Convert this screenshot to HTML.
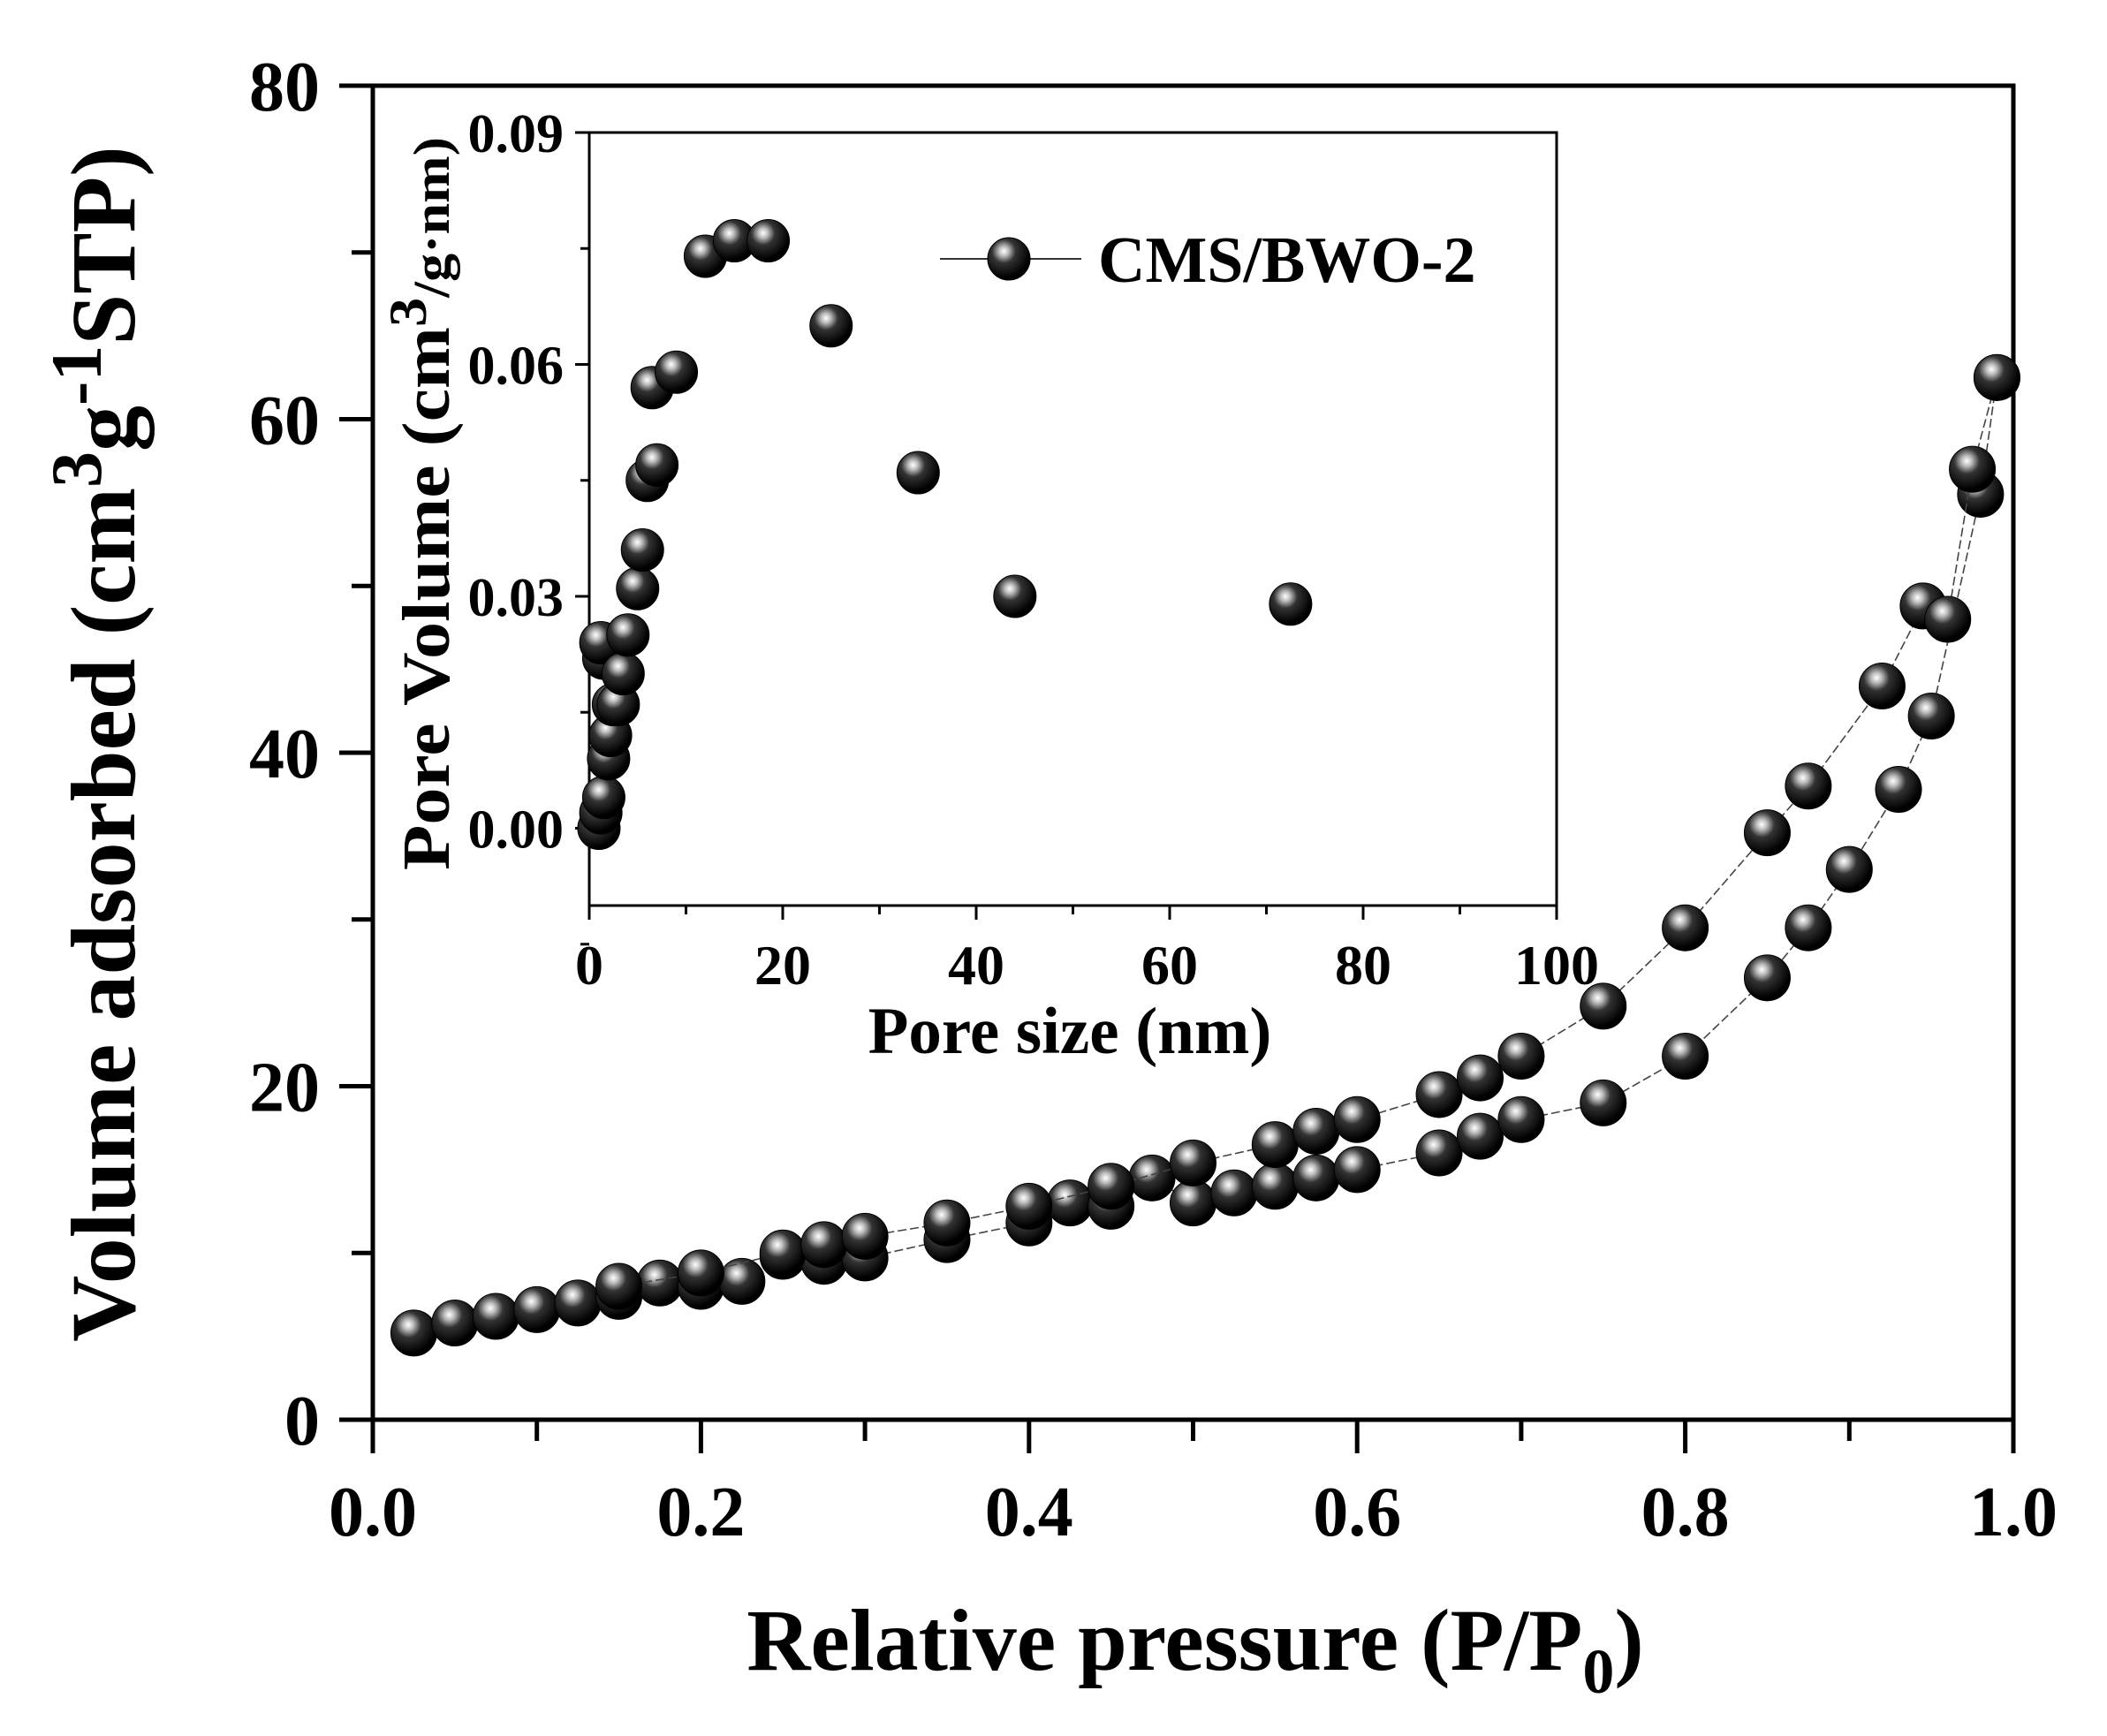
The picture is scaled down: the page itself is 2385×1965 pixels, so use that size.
<!DOCTYPE html>
<html><head><meta charset="utf-8"><style>
html,body{margin:0;padding:0;background:#fff;}
svg{display:block;font-family:"Liberation Serif",serif;font-weight:bold;}
</style></head><body>
<svg id="chart" width="2385" height="1965" viewBox="0 0 2385 1965" xmlns="http://www.w3.org/2000/svg">
<defs>
<radialGradient id="ball" cx="0.38" cy="0.32" r="0.62">
<stop offset="0" stop-color="#ffffff"/>
<stop offset="0.18" stop-color="#bdbdbd"/>
<stop offset="0.45" stop-color="#333"/>
<stop offset="1" stop-color="#000"/>
</radialGradient>
</defs>
<g id="main"></g>
<g id="inset"></g>
</svg>
<script>
const adsX=[0.025,0.05,0.075,0.1,0.125,0.15,0.175,0.2,0.225,0.25,0.275,0.3,0.35,0.4,0.425,0.45,0.475,0.5,0.525,0.55,0.575,0.6,0.65,0.675,0.7,0.75,0.8,0.85,0.875,0.9,0.93,0.95,0.98,0.99];
const adsY=[5.2,5.8,6.2,6.6,7,7.4,8.2,8,8.3,9.8,9.5,9.7,10.8,11.8,13,12.8,14.5,13,13.6,14,14.5,15,16,17,18,19,21.8,26.5,29.5,33,37.8,42.2,55.5,62.5];
const desX=[0.15,0.2,0.25,0.275,0.3,0.35,0.4,0.45,0.5,0.55,0.575,0.6,0.65,0.675,0.7,0.75,0.8,0.85,0.875,0.92,0.945,0.96,0.975,0.99];
const desY=[8,8.8,10,10.5,11,11.8,12.8,14,15.4,16.5,17.3,18,19.5,20.5,21.8,24.8,29.5,35.2,38,44,48.8,48,57,62.5];
const mainXTicks=["0.0","0.2","0.4","0.6","0.8","1.0"];
const mainYTicks=["0","20","40","60","80"];
const poreX=[1,1.2,1.5,2,2.2,2.5,1.5,1.2,3,3.5,4,5,5.5,6,7,6.5,9,12,15,18.5,25,34,44,72.5];
const poreY=[0,0.002,0.004,0.009,0.012,0.016,0.022,0.024,0.016,0.020,0.025,0.031,0.036,0.045,0.047,0.057,0.059,0.074,0.076,0.076,0.065,0.046,0.030,0.029];
const insetXTicks=["0","20","40","60","80","100"];
const insetYTicks=["0.00","0.03","0.06","0.09"];

const NS="http://www.w3.org/2000/svg";
function mk(parent,tag,attrs,text){const e=document.createElementNS(NS,tag);for(const k in attrs)e.setAttribute(k,attrs[k]);if(text!==undefined)e.textContent=text;parent.appendChild(e);return e;}
const main=document.getElementById('main'), inset=document.getElementById('inset');
const L=422,R=2279,T=97,B=1607;
const mx=v=>L+(v-0)/(1-0)*(R-L);
const my=v=>B-(v-0)/(80-0)*(B-T);
let box=mk(main,'rect',{x:L,y:T,width:R-L,height:B-T,fill:'none',stroke:'#000','stroke-width':5});


for(let i=0;i<=10;i++){const x=mx(i/10);const len=i%2==0?38:24;
 const t=mk(main,'line',{x1:x,y1:B,x2:x,y2:B+len,stroke:'#000','stroke-width':5});
 
 }
mainXTicks.forEach((s,i)=>{const t=mk(main,'text',{x:mx(parseFloat(s)),y:1738,'text-anchor':'middle','font-size':80},s);
 
 });
for(let i=0;i<=8;i++){const y=my(i*10);const len=i%2==0?38:24;
 const t=mk(main,'line',{x1:L-len,y1:y,x2:L,y2:y,stroke:'#000','stroke-width':5});
 
 }
mainYTicks.forEach(s=>{const t=mk(main,'text',{x:362,y:my(parseFloat(s))+28,'text-anchor':'end','font-size':80},s);
 
 });
let xt=mk(main,'text',{x:1353,y:1890,'text-anchor':'middle','font-size':100});
xt.innerHTML='Relative pressure (P/P<tspan font-size="72" dy="26">0</tspan><tspan dy="-26">)</tspan>';


let yt=mk(main,'text',{transform:'translate(152,842) rotate(-90)','text-anchor':'middle','font-size':104});
yt.innerHTML='Volume adsorbed (cm<tspan dy="-38" font-size="82">3</tspan><tspan dy="38">g</tspan><tspan dy="-38" font-size="82">-1</tspan><tspan dy="38">STP)</tspan>';


function series(g,xs,ys,fx,fy,r,name){
 const d=xs.map((x,i)=>(i?'L':'M')+fx(x).toFixed(1)+' '+fy(ys[i]).toFixed(1)).join(' ');
 const p=mk(g,'path',{d:d,fill:'none',stroke:'#444','stroke-width':1.6,'stroke-dasharray':'10 4'});
 
 
 xs.forEach((x,i)=>{const c=mk(g,'circle',{cx:fx(x),cy:fy(ys[i]),r:r,fill:'url(#ball)',stroke:'#000','stroke-width':1});
  
  });
}
series(main,adsX,adsY,mx,my,26,'adsorption');
series(main,desX,desY,mx,my,26,'desorption');
const iL=667,iR=1762,iT=150,iB=1025;
const ix=v=>iL+v/100*(iR-iL);
const iy=v=>iB-(v+0.01)/(0.1)*(iB-iT);
let ib=mk(inset,'rect',{x:iL,y:iT,width:iR-iL,height:iB-iT,fill:'none',stroke:'#000','stroke-width':3});


for(let i=0;i<=10;i++){const x=ix(i*10);const len=i%2==0?16:10;
 const t=mk(inset,'line',{x1:x,y1:iB,x2:x,y2:iB+len,stroke:'#000','stroke-width':3});
 
 }
insetXTicks.forEach(s=>{const t=mk(inset,'text',{x:ix(parseFloat(s)),y:1114,'text-anchor':'middle','font-size':64},s);
 
 });
for(let i=-1;i<=6;i++){const y=iy(i*0.015);const len=i%2==0?16:10;
 const t=mk(inset,'line',{x1:iL-len,y1:y,x2:iL,y2:y,stroke:'#000','stroke-width':3});
 
 }
insetYTicks.forEach(s=>{const t=mk(inset,'text',{x:638,y:iy(parseFloat(s))+22,'text-anchor':'end','font-size':62},s);
 
 });
let ixt=mk(inset,'text',{x:1211,y:1192,'text-anchor':'middle','font-size':75},'Pore size (nm)');


let iyt=mk(inset,'text',{transform:'translate(508,570) rotate(-90)','text-anchor':'middle','font-size':76,textLength:830,lengthAdjust:'spacingAndGlyphs'});
iyt.innerHTML='Pore Volume (cm<tspan dy="-26" font-size="60">3</tspan><tspan dy="26" font-size="58">/g·nm)</tspan>';


poreX.forEach((x,i)=>{const c=mk(inset,'circle',{cx:ix(x),cy:iy(poreY[i]),r:24,fill:'url(#ball)',stroke:'#000','stroke-width':1});
 
 });
const lg=mk(inset,'g',{});


mk(lg,'line',{x1:1064,y1:293,x2:1224,y2:293,stroke:'#333','stroke-width':2});
mk(lg,'circle',{cx:1142,cy:293,r:24,fill:'url(#ball)',stroke:'#000','stroke-width':1});
mk(lg,'text',{x:1243,y:319,'font-size':74},'CMS/BWO-2');
</script>
</body></html>
